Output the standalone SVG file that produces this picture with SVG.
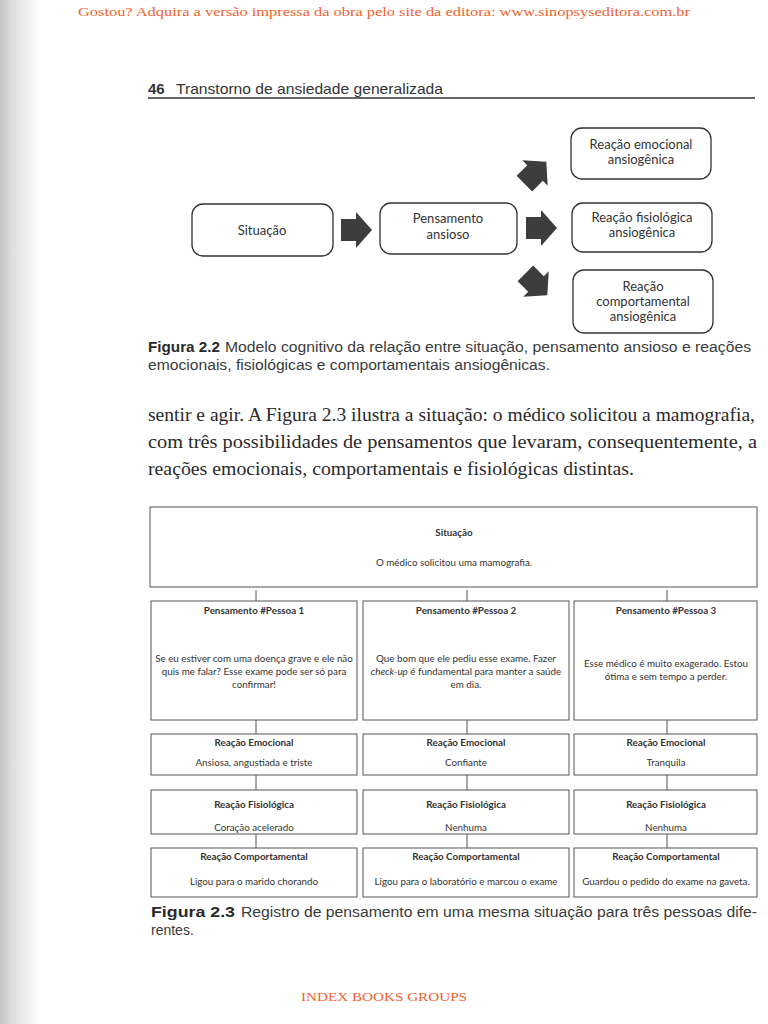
<svg xmlns="http://www.w3.org/2000/svg" width="768" height="1024" viewBox="0 0 768 1024">
<defs>
<linearGradient id="edge" x1="0" y1="0" x2="1" y2="0">
<stop offset="0" stop-color="#c4c4c4"/>
<stop offset="0.3" stop-color="#dedede"/>
<stop offset="1" stop-color="#ffffff"/>
</linearGradient>
<path id="bigArrow" d="M-15,-11 L0,-11 L0,-18 L16,0 L0,18 L0,11 L-15,11 Z"/>
</defs>
<style>
.orange{font-family:"Liberation Serif",serif;fill:#f0622d;font-size:13px}
.head{font-family:"Liberation Sans",sans-serif;fill:#333;font-size:15px}
.cap{font-family:"Liberation Sans",sans-serif;fill:#3a3a3a;font-size:14px}
.capb{font-family:"Liberation Sans",sans-serif;fill:#2a2a2a;font-size:14px;font-weight:bold}
.body{font-family:"Liberation Serif",serif;fill:#2a2a2a;font-size:19px}
.n22 rect{fill:#fff;stroke:#333;stroke-width:1.3}
.t22{font-family:Lato,"Liberation Sans",sans-serif;fill:#333;font-size:13px;text-anchor:middle}
.n23 rect{fill:#fff;stroke:#555;stroke-width:1}
.t23{font-family:Lato,"Liberation Sans",sans-serif;fill:#333;font-size:9.8px;text-anchor:middle}
.b23{font-family:Lato,"Liberation Sans",sans-serif;fill:#333;font-size:9.8px;text-anchor:middle;font-weight:bold}
.arrow{fill:#3d3d3d}
.tick{stroke:#555;stroke-width:1}
</style>
<rect x="0" y="0" width="768" height="1024" fill="#fff"/>
<rect x="0" y="0" width="40" height="1024" fill="url(#edge)"/>

<text class="orange" x="78" y="16" textLength="612" lengthAdjust="spacingAndGlyphs">Gostou? Adquira a versão impressa da obra pelo site da editora: www.sinopsyseditora.com.br</text>

<text class="head" x="148" y="94" font-weight="bold" font-size="17">46</text>
<text class="head" x="176" y="94" textLength="267" lengthAdjust="spacingAndGlyphs">Transtorno de ansiedade generalizada</text>
<line x1="148" y1="98" x2="755" y2="98" stroke="#333" stroke-width="1.5"/>

<!-- Figure 2.2 -->
<g id="f22-situacao" class="n22"><rect x="192" y="204" width="141" height="52" rx="11"/><text class="t22" x="262" y="235">Situação</text></g>
<g id="f22-pensamento" class="n22"><rect x="380" y="203" width="137" height="51" rx="11"/><text class="t22" x="448" y="223">Pensamento</text><text class="t22" x="448" y="239">ansioso</text></g>
<g id="f22-emocional" class="n22"><rect x="571" y="128" width="140" height="51" rx="11"/><text class="t22" x="641" y="149">Reação emocional</text><text class="t22" x="641" y="164">ansiogênica</text></g>
<g id="f22-fisiologica" class="n22"><rect x="572" y="203" width="140" height="49" rx="11"/><text class="t22" x="642" y="222">Reação fisiológica</text><text class="t22" x="642" y="237">ansiogênica</text></g>
<g id="f22-comportamental" class="n22"><rect x="573" y="270" width="140" height="63" rx="11"/><text class="t22" x="643" y="291">Reação</text><text class="t22" x="643" y="306">comportamental</text><text class="t22" x="643" y="321">ansiogênica</text></g>
<g id="f22-connectors" class="arrow">
<use href="#bigArrow" transform="translate(356,230)"/>
<use href="#bigArrow" transform="translate(541,228)"/>
<use href="#bigArrow" transform="translate(535,173) rotate(-45)"/>
<use href="#bigArrow" transform="translate(536,284) rotate(45)"/>
</g>

<text class="capb" x="148" y="352" textLength="72" lengthAdjust="spacingAndGlyphs">Figura 2.2</text>
<text class="cap" x="225" y="352" textLength="526" lengthAdjust="spacingAndGlyphs">Modelo cognitivo da relação entre situação, pensamento ansioso e reações</text>
<text class="cap" x="148" y="370" textLength="402" lengthAdjust="spacingAndGlyphs">emocionais, fisiológicas e comportamentais ansiogênicas.</text>

<text class="body" x="148" y="421" textLength="607" lengthAdjust="spacingAndGlyphs">sentir e agir. A Figura 2.3 ilustra a situação: o médico solicitou a mamografia,</text>
<text class="body" x="148" y="448" textLength="609" lengthAdjust="spacingAndGlyphs">com três possibilidades de pensamentos que levaram, consequentemente, a</text>
<text class="body" x="148" y="475" textLength="486" lengthAdjust="spacingAndGlyphs">reações emocionais, comportamentais e fisiológicas distintas.</text>

<!-- Figure 2.3 -->
<g id="f23-situacao" class="n23"><rect x="150" y="507" width="607" height="80"/><text class="b23" x="454" y="536">Situação</text><text class="t23" x="454" y="566">O médico solicitou uma mamografia.</text></g>

<g id="f23-pens1" class="n23"><rect x="151" y="601" width="206" height="119"/><text class="b23" x="254" y="614">Pensamento  #Pessoa 1</text><text class="t23" x="254" y="662">Se eu estiver com uma doença grave e ele não</text><text class="t23" x="254" y="675">quis me falar? Esse exame pode ser só para</text><text class="t23" x="254" y="688">confirmar!</text></g>
<g id="f23-pens2" class="n23"><rect x="363" y="601" width="206" height="119"/><text class="b23" x="466" y="614">Pensamento  #Pessoa 2</text><text class="t23" x="466" y="662">Que bom que ele pediu esse exame. Fazer</text><text class="t23" x="466" y="675"><tspan font-style="italic">check-up</tspan> é fundamental para manter a saúde</text><text class="t23" x="466" y="688">em dia.</text></g>
<g id="f23-pens3" class="n23"><rect x="574" y="601" width="183" height="119"/><text class="b23" x="666" y="614">Pensamento #Pessoa 3</text><text class="t23" x="666" y="667">Esse médico é muito exagerado. Estou</text><text class="t23" x="666" y="680">ótima e sem tempo a perder.</text></g>

<g id="f23-emo1" class="n23"><rect x="151" y="734" width="206" height="41"/><text class="b23" x="254" y="746">Reação Emocional</text><text class="t23" x="254" y="766">Ansiosa, angustiada e triste</text></g>
<g id="f23-emo2" class="n23"><rect x="363" y="734" width="206" height="41"/><text class="b23" x="466" y="746">Reação Emocional</text><text class="t23" x="466" y="766">Confiante</text></g>
<g id="f23-emo3" class="n23"><rect x="574" y="734" width="183" height="41"/><text class="b23" x="666" y="746">Reação Emocional</text><text class="t23" x="666" y="766">Tranquila</text></g>

<g id="f23-fis1" class="n23"><rect x="151" y="790" width="206" height="44"/><text class="b23" x="254" y="808">Reação Fisiológica</text><text class="t23" x="254" y="831">Coração acelerado</text></g>
<g id="f23-fis2" class="n23"><rect x="363" y="790" width="206" height="44"/><text class="b23" x="466" y="808">Reação Fisiológica</text><text class="t23" x="466" y="831">Nenhuma</text></g>
<g id="f23-fis3" class="n23"><rect x="574" y="790" width="183" height="44"/><text class="b23" x="666" y="808">Reação Fisiológica</text><text class="t23" x="666" y="831">Nenhuma</text></g>

<g id="f23-comp1" class="n23"><rect x="151" y="848" width="206" height="49"/><text class="b23" x="254" y="860">Reação Comportamental</text><text class="t23" x="254" y="885">Ligou para o marido chorando</text></g>
<g id="f23-comp2" class="n23"><rect x="363" y="848" width="206" height="49"/><text class="b23" x="466" y="860">Reação Comportamental</text><text class="t23" x="466" y="885">Ligou para o laboratório e marcou o exame</text></g>
<g id="f23-comp3" class="n23"><rect x="574" y="848" width="183" height="49"/><text class="b23" x="666" y="860">Reação Comportamental</text><text class="t23" x="666" y="885">Guardou o pedido do exame na gaveta.</text></g>

<g id="f23-connectors" class="tick">
<line x1="256" y1="590" x2="256" y2="601"/><line x1="467" y1="590" x2="467" y2="601"/><line x1="667" y1="590" x2="667" y2="601"/>
<line x1="256" y1="720" x2="256" y2="734"/><line x1="467" y1="720" x2="467" y2="734"/><line x1="667" y1="720" x2="667" y2="734"/>
<line x1="256" y1="775" x2="256" y2="790"/><line x1="467" y1="775" x2="467" y2="790"/><line x1="667" y1="775" x2="667" y2="790"/>
<line x1="256" y1="834" x2="256" y2="848"/><line x1="467" y1="834" x2="467" y2="848"/><line x1="667" y1="834" x2="667" y2="848"/>
</g>

<text class="capb" x="151" y="917" textLength="84" lengthAdjust="spacingAndGlyphs">Figura 2.3</text>
<text class="cap" x="241" y="917" textLength="516" lengthAdjust="spacingAndGlyphs">Registro de pensamento em uma mesma situação para três pessoas dife-</text>
<text class="cap" x="151" y="935">rentes.</text>

<text class="orange" x="384" y="1001" text-anchor="middle" textLength="166" lengthAdjust="spacingAndGlyphs">INDEX BOOKS GROUPS</text>
</svg>
